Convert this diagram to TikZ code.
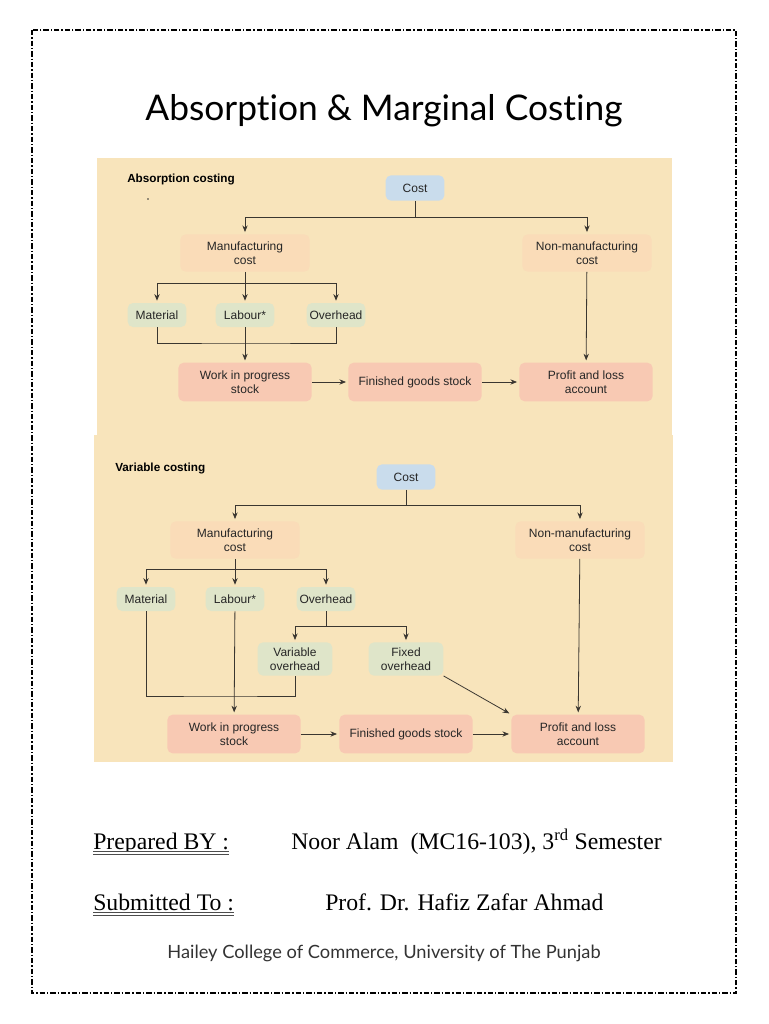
\documentclass[tikz,border=0pt]{standalone}
\usepackage{fontspec}
\setmainfont{Liberation Serif}
\newfontfamily\diagfont{Liberation Sans}
\newfontfamily\titlefont[Ligatures=NoCommon]{Lato}
\usetikzlibrary{arrows.meta}
\definecolor{panelbg}{HTML}{F8E4BB}
\definecolor{costblue}{HTML}{C9DCEC}
\definecolor{peach}{HTML}{FADCB8}
\definecolor{palegreen}{HTML}{DFE5C9}
\definecolor{salmon}{HTML}{F8C9B3}
\definecolor{inkline}{HTML}{3A3630}
\tikzstyle{arrow} = [-{Stealth[length=5pt,width=4pt]},shorten >=1.5pt]
\tikzstyle{box} = [rounded corners=4pt, align=center, inner sep=2pt, text=black!85,
  font=\diagfont\fontsize{9}{10.5}\selectfont]
\tikzstyle{costbox} = [box, fill=costblue, minimum width=44pt, minimum height=19pt]
\tikzstyle{groupbox} = [box, fill=peach, minimum width=97pt, minimum height=28pt]
\tikzstyle{itembox} = [box, fill=palegreen, minimum width=44pt, minimum height=18pt]
\tikzstyle{subbox} = [box, fill=palegreen, minimum width=56pt, minimum height=25pt]
\tikzstyle{stockbox} = [box, fill=salmon, minimum width=100pt, minimum height=29pt]
\tikzstyle{panellabel} = [anchor=west, inner sep=0pt, font=\diagfont\bfseries\fontsize{8.8}{10}\selectfont]
\tikzstyle{plain} = [anchor=base west, inner sep=0pt, font=\fontsize{17.8}{20}\selectfont]
\tikzstyle{uline} = [black!70, double, double distance=1.6pt, line width=0.6pt]

\begin{document}
\begin{tikzpicture}[x=0.75pt,y=-0.75pt]
  \useasboundingbox (0,0) rectangle (768,1024);
  %frame
  \draw[line width=1.5pt, dash pattern=on 4pt off 1.5pt on 1pt off 1.5pt] (32,30) rectangle (736,993);
  \node[font=\titlefont\fontsize{26.5}{30}\selectfont] (title) at (384,111) {Absorption \& Marginal Costing};
  %panels
  \fill[panelbg] (97,158) rectangle (672,435);
  \fill[panelbg] (94,435) rectangle (673,762);

  %absorption costing
  \node[panellabel] (abslabel) at (127,179) {Absorption costing};
  \fill[black!80] (148,199) circle (0.6pt);
  \node[costbox] (cost1) at (415,188) {Cost};
  \node[groupbox] (mfg1) at (245,253) {Manufacturing\\cost};
  \node[groupbox] (nmfg1) at (587,253) {Non-manufacturing\\cost};
  \node[itembox] (mat1) at (157,315) {Material};
  \node[itembox] (lab1) at (245,315) {Labour*};
  \node[itembox] (ovh1) at (336,315) {Overhead};
  \node[stockbox] (wip1) at (245,382) {Work in progress\\stock};
  \node[stockbox] (fg1) at (415,382) {Finished goods stock};
  \node[stockbox] (pl1) at (586,382) {Profit and loss\\account};
  \coordinate (split1) at (415,217);
  \coordinate (split2) at (245,283);
  \coordinate (join1) at (245,343);
  \begin{scope}[draw=inkline, line width=0.6pt]
    \draw (cost1) -- (split1);
    \draw[arrow] (split1) -| (mfg1);
    \draw[arrow] (split1) -| (nmfg1);
    \draw (mfg1) -- (split2);
    \draw[arrow] (split2) -| (mat1);
    \draw[arrow] (split2) -- (lab1);
    \draw[arrow] (split2) -| (ovh1);
    \draw (mat1) |- (join1) -| (ovh1);
    \draw[arrow] (lab1) -- (wip1);
    \draw[arrow] (wip1) -- (fg1);
    \draw[arrow] (fg1) -- (pl1);
    \draw[arrow] (nmfg1) -- (pl1);
  \end{scope}

  %variable costing
  \node[panellabel] (varlabel) at (115,468) {Variable costing};
  \node[costbox] (cost2) at (406,477) {Cost};
  \node[groupbox] (mfg2) at (235,540) {Manufacturing\\cost};
  \node[groupbox] (nmfg2) at (580,540) {Non-manufacturing\\cost};
  \node[itembox] (mat2) at (146,599) {Material};
  \node[itembox] (lab2) at (235,599) {Labour*};
  \node[itembox] (ovh2) at (326,599) {Overhead};
  \node[subbox] (varoh) at (295,659) {Variable\\overhead};
  \node[subbox] (fixoh) at (406,659) {Fixed\\overhead};
  \node[stockbox] (wip2) at (234,734) {Work in progress\\stock};
  \node[stockbox] (fg2) at (406,734) {Finished goods stock};
  \node[stockbox] (pl2) at (578,734) {Profit and loss\\account};
  \coordinate (split3) at (406,505);
  \coordinate (split4) at (235,569);
  \coordinate (split5) at (326,626);
  \coordinate (join2) at (220,696);
  \begin{scope}[draw=inkline, line width=0.6pt]
    \draw (cost2) -- (split3);
    \draw[arrow] (split3) -| (mfg2);
    \draw[arrow] (split3) -| (nmfg2);
    \draw (mfg2) -- (split4);
    \draw[arrow] (split4) -| (mat2);
    \draw[arrow] (split4) -- (lab2);
    \draw[arrow] (split4) -| (ovh2);
    \draw (ovh2) -- (split5);
    \draw[arrow] (split5) -| (varoh);
    \draw[arrow] (split5) -| (fixoh);
    \draw (mat2) |- (join2) -| (varoh);
    \draw[arrow] (lab2) -- (wip2);
    \draw[arrow] (fixoh.south east) -- (pl2.north west);
    \draw[arrow] (wip2) -- (fg2);
    \draw[arrow] (fg2) -- (pl2);
    \draw[arrow] (nmfg2) -- (pl2);
  \end{scope}

  %names
  \node[plain] (prep) at (93,849) {Prepared BY :};
  \node[plain] (preparer) at (291,849) {Noor Alam\ \ (MC16-103), 3\textsuperscript{rd} Semester};
  \node[plain] (subm) at (93,910) {Submitted To :};
  \node[plain] (supervisor) at (325,910) {Prof. Dr. Hafiz Zafar Ahmad};
  \draw[uline] ([yshift=-3.2pt]prep.base west) -- ([yshift=-3.2pt]prep.base east);
  \draw[uline] ([yshift=-3.2pt]subm.base west) -- ([yshift=-3.2pt]subm.base east);
  \node[anchor=base, inner sep=0pt, font=\titlefont\fontsize{13.7}{16}\selectfont, text=black!80] (college) at (384,958) {Hailey College of Commerce, University of The Punjab};
\end{tikzpicture}
\end{document}
